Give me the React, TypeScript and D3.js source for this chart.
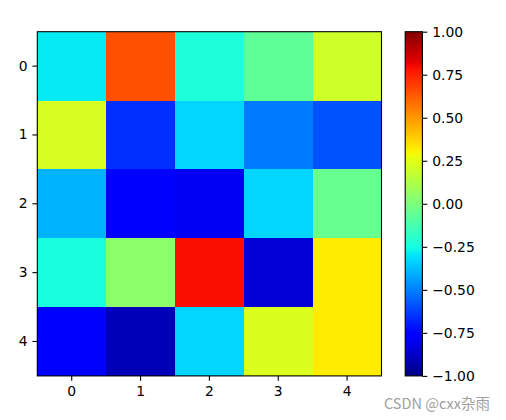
import React, { useEffect, useRef } from "react";
import * as d3 from "d3";

const rowLabels = ["0", "1", "2", "3", "4"];
const colLabels = ["0", "1", "2", "3", "4"];
const values: number[][] = [
  [-0.29, 0.65, -0.23, -0.07, 0.2],
  [0.22, -0.66, -0.33, -0.51, -0.59],
  [-0.4, -0.77, -0.8, -0.33, -0.05],
  [-0.24, 0.04, 0.79, -0.85, 0.32],
  [-0.78, -0.9, -0.33, 0.23, 0.32],
];
const cbTicks = [-1, -0.75, -0.5, -0.25, 0, 0.25, 0.5, 0.75, 1];
const watermark = "CSDN @cxx杂雨";

const jetR = d3.scaleLinear<number>().domain([0, 0.35, 0.66, 0.89, 1]).range([0, 0, 1, 1, 0.5]).clamp(true);
const jetG = d3.scaleLinear<number>().domain([0, 0.125, 0.375, 0.64, 0.91, 1]).range([0, 0, 1, 1, 0, 0]).clamp(true);
const jetB = d3.scaleLinear<number>().domain([0, 0.11, 0.34, 0.65, 1]).range([0.5, 1, 1, 0, 0]).clamp(true);
const jet = (t: number) =>
  d3.rgb(Math.round(jetR(t) * 255), Math.round(jetG(t) * 255), Math.round(jetB(t) * 255)).formatHex();

export default function App() {
  const ref = useRef<SVGSVGElement>(null);
  useEffect(() => {
    const svg = d3.select(ref.current);
    svg.selectAll("*").remove();
    const font = "'DejaVu Sans', sans-serif";
    const left = 37.3, top = 31.7, size = 344.2;
    const x = d3.scaleBand().domain(colLabels).range([left, left + size]).padding(0);
    const y = d3.scaleBand().domain(rowLabels).range([top, top + size]).padding(0);
    const norm = d3.scaleLinear().domain([-1, 1]).range([0, 1]);

    const g = svg.append("g");
    values.forEach((row, i) => {
      row.forEach((v, j) => {
        g.append("rect")
          .attr("x", x(colLabels[j])!)
          .attr("y", y(rowLabels[i])!)
          .attr("width", x.bandwidth() + 0.5)
          .attr("height", y.bandwidth() + 0.5)
          .attr("fill", jet(norm(v)))
          .attr("shape-rendering", "crispEdges");
      });
    });
    g.append("rect")
      .attr("x", left).attr("y", top).attr("width", size).attr("height", size)
      .attr("fill", "none").attr("stroke", "#000").attr("stroke-width", 1.1);

    const xAxis = svg.append("g").attr("transform", `translate(0,${top + size})`)
      .call(d3.axisBottom(x).tickSize(4.9).tickPadding(4.9));
    const yAxis = svg.append("g").attr("transform", `translate(${left},0)`)
      .call(d3.axisLeft(y).tickSize(4.9).tickPadding(4.9));
    [xAxis, yAxis].forEach((a) => {
      a.select(".domain").remove();
      a.selectAll("line").attr("stroke", "#000").attr("stroke-width", 1.1);
      a.selectAll("text").attr("font-family", font).attr("font-size", 13.9).attr("fill", "#000");
    });

    // colorbar
    const cbX = 405.2, cbW = 17.2;
    const cy = d3.scaleLinear().domain([-1, 1]).range([top + size, top]);
    const defs = svg.append("defs");
    const grad = defs.append("linearGradient").attr("id", "jetgrad")
      .attr("x1", 0).attr("y1", 1).attr("x2", 0).attr("y2", 0);
    d3.range(0, 257).forEach((k) => {
      const t = k / 256;
      grad.append("stop").attr("offset", t).attr("stop-color", jet(t));
    });
    svg.append("rect").attr("x", cbX).attr("y", top).attr("width", cbW).attr("height", size)
      .attr("fill", "url(#jetgrad)");
    svg.append("rect").attr("x", cbX).attr("y", top).attr("width", cbW).attr("height", size)
      .attr("fill", "none").attr("stroke", "#000").attr("stroke-width", 1.1);
    const cbAxis = svg.append("g").attr("transform", `translate(${cbX + cbW},0)`)
      .call(d3.axisRight(cy).tickValues(cbTicks).tickSize(4.9).tickPadding(4.9)
        .tickFormat((d) => d3.format(".2f")(d as number).replace("-", "\u2212")));
    cbAxis.select(".domain").remove();
    cbAxis.selectAll("line").attr("stroke", "#000").attr("stroke-width", 1.1);
    cbAxis.selectAll("text").attr("font-family", font).attr("font-size", 13.9).attr("fill", "#000");

    svg.append("text").attr("x", 384).attr("y", 409).attr("font-family", "'Noto Sans CJK SC', 'Noto Sans', sans-serif")
      .attr("font-size", 14.5).attr("fill", "#a0a0a0").text(watermark);
  }, []);
  return (
    <svg ref={ref} width={506} height={420} style={{ position: "absolute", left: 0, top: 0, background: "#fff" }} />
  );
}
